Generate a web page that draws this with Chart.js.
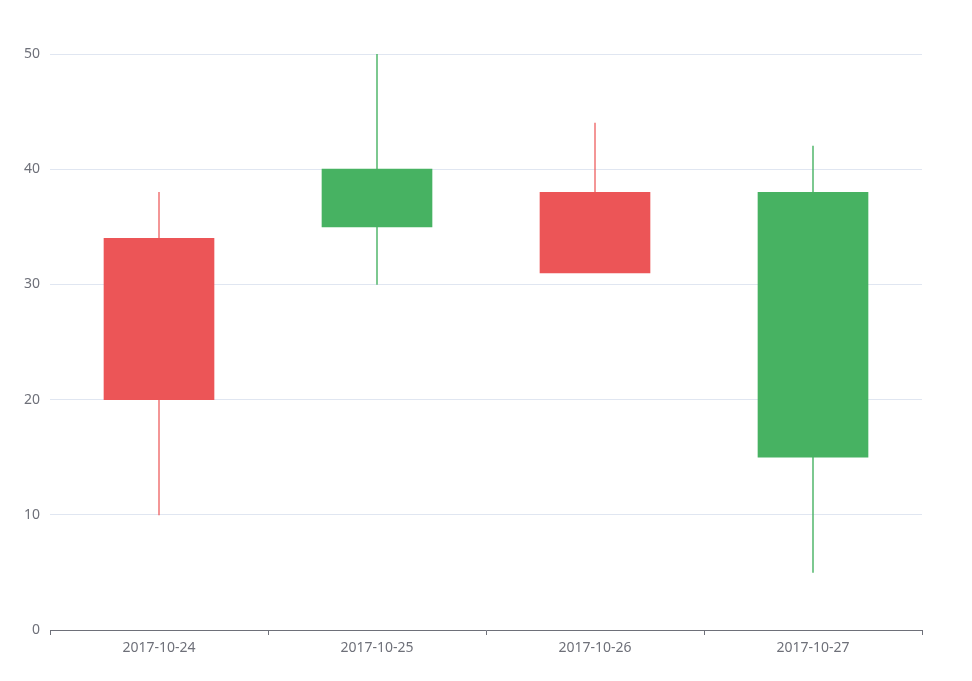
<!DOCTYPE html><html><head><script src="https://cdn.jsdelivr.net/npm/chart.js@4"></script>
<style>body{margin:0}#w{width:972px;height:681px}</style></head><body><div id="w"><canvas id="c"></canvas></div>
<script>
const categories=['2017-10-24','2017-10-25','2017-10-26','2017-10-27'];
const opens=[20,40,31,38];
const closes=[34,35,38,15];
const lows=[10,30,33,5];
const highs=[38,50,44,42];
const up='#ec5557', down='#47b262';
const cols=opens.map((o,i)=>closes[i]>=o?up:down);
const wickCols=opens.map((o,i)=>closes[i]>=o?'rgba(236,85,87,0.75)':'rgba(71,178,98,0.85)');
new Chart(document.getElementById('c'),{type:'bar',
data:{labels:categories,datasets:[
{data:lows.map((l,i)=>[l,highs[i]]),backgroundColor:wickCols,barThickness:1,grouped:false,order:2},
{data:opens.map((o,i)=>[o,closes[i]]),backgroundColor:cols,barThickness:110,grouped:false,order:1}
]},
options:{responsive:true,maintainAspectRatio:false,animation:false,
layout:{padding:{top:54,right:50,left:0,bottom:0}},
plugins:{legend:{display:false},tooltip:{enabled:false}},
scales:{
x:{offset:true,grid:{offset:true,drawOnChartArea:false,tickLength:5,color:'#6e7079'},border:{color:'#6e7079'},
ticks:{color:'#6e7079',font:{size:14,family:'Noto Sans'},padding:5},afterFit:s=>{s.height=51}},
y:{min:0,max:50,ticks:{stepSize:10,color:'#6e7079',font:{size:14,family:'Noto Sans'},padding:10},
grid:{color:'#e0e6f1',drawTicks:false},border:{display:false},afterFit:s=>{s.width=50}}
}}});
</script></body></html>
